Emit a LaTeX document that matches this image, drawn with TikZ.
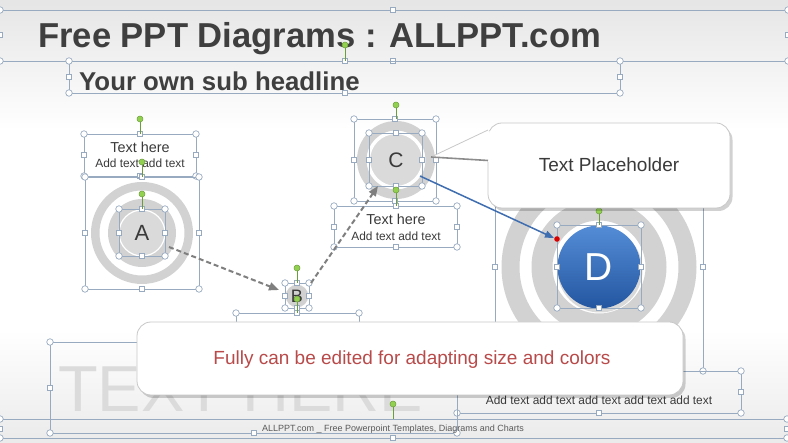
\documentclass[tikz,border=0pt]{standalone}
\usepackage{fontspec}
\setmainfont{Liberation Sans}
\usetikzlibrary{arrows.meta,calc}
\definecolor{selc}{HTML}{98AAC0}
\definecolor{ringc}{HTML}{D2D2D2}
\definecolor{discc}{HTML}{DADADA}
\definecolor{titlec}{HTML}{3F3F3F}
\definecolor{bodyc}{HTML}{3A3A3A}
\definecolor{greenh}{HTML}{92D050}
\definecolor{greenb}{HTML}{6B9E3A}
\definecolor{arrowg}{HTML}{7F7F7F}
\definecolor{blueln}{HTML}{3F6EB0}
\definecolor{redtx}{HTML}{B94A4A}
\definecolor{callb}{HTML}{C8C8C8}
\tikzset{
  sel/.style={draw=selc,line width=0.9pt},
  hc/.style={circle,draw=selc,fill=white,line width=0.7pt,inner sep=0pt,minimum size=6.5pt},
  hs/.style={rectangle,draw=selc,fill=white,line width=0.7pt,inner sep=0pt,minimum size=5pt},
  gh/.style={circle,draw=greenb,fill=greenh,line width=0.5pt,inner sep=0pt,minimum size=6pt},
  disc/.style={circle,fill=discc,draw=white,line width=1.2pt,inner sep=0pt,text=bodyc},
  dasharrow/.style={draw=arrowg,line width=2pt,dash pattern=on 5pt off 3pt,-{Triangle[length=10pt,width=8pt]}},
  bluearrow/.style={draw=blueln,line width=1.5pt,-{Triangle[length=9pt,width=7pt]}},
  callout/.style={rectangle,rounded corners=14pt,fill=white,draw=callb,line width=0.8pt,inner sep=0pt},
  calloutshadow/.style={rectangle,rounded corners=14pt,fill=black,opacity=0.18,inner sep=0pt},
  lbl/.style={inner sep=0pt,anchor=base,text=bodyc}
}
\newcommand\mkselbox[4]{%
  \draw[sel] (#1,#2) rectangle (#3,#4);
  \node[hc] at (#1,#2) {}; \node[hc] at (#3,#2) {};
  \node[hc] at (#1,#4) {}; \node[hc] at (#3,#4) {};
  \node[hs] at ($(#1,#2)!0.5!(#3,#2)$) {};
  \node[hs] at ($(#1,#4)!0.5!(#3,#4)$) {};
  \node[hs] at ($(#1,#2)!0.5!(#1,#4)$) {};
  \node[hs] at ($(#3,#2)!0.5!(#3,#4)$) {};
}
\newcommand\mkrot[3]{%
  \draw[draw=greenb,line width=0.6pt] (#1,#2) -- (#1,#3);
  \node[gh] at (#1,#3) {};
}
\begin{document}
\begin{tikzpicture}[x=1pt,y=-1pt]
\useasboundingbox (0,0) rectangle (788,443);
% background
\shade[top color=black!10,bottom color=white] (0,0) rectangle (788,130);
\fill[white] (0,130) rectangle (788,330);
\shade[top color=white,bottom color=black!8] (0,330) rectangle (788,443);

% watermark
\node[lbl,anchor=base west,text=black!14] (wm) at (58,412) {\fontsize{65}{70}\selectfont TEXT HERE};

% title & subtitle
\node[lbl,anchor=base west,text=titlec] (title) at (38,48) {\fontsize{34.6}{40}\selectfont\bfseries Free PPT Diagrams : ALLPPT.com};
\node[lbl,anchor=base west,text=titlec] (sub) at (79,90.5) {\fontsize{25.8}{30}\selectfont\bfseries Your own sub headline};

% title / subtitle selection frames
\draw[sel] (0,10) -- (788,10);
\draw[sel] (0,61) -- (788,61);
\node[hc] at (0,10) {}; \node[hc] at (0,61) {}; \node[hs] at (0,35) {};
\node[hc] at (788,10) {}; \node[hc] at (788,61) {}; \node[hs] at (788,35) {};
\node[hs] at (393,10) {}; \node[hs] at (393,61) {};
\mkselbox{69}{61}{620}{93}
\mkrot{345}{61}{45}

% ---------- group A ----------
\fill[ringc,even odd rule] (142,233) circle (51) (142,233) circle (42.5);
\fill[ringc,even odd rule] (142,233) circle (34) (142,233) circle (23);
\node[disc,minimum size=46pt] (A) at (142,233) {\fontsize{22}{24}\selectfont A};
\node[lbl] (tA) at (140,153) {\fontsize{14.4}{16}\selectfont Text here};
\node[lbl] (sA) at (140,168) {\fontsize{11.9}{14}\selectfont Add text add text};
\mkselbox{84}{134}{196}{176}
\mkrot{140}{134}{119}
\mkselbox{85}{177}{199}{289}
\mkselbox{119}{209}{165}{256}
\mkrot{142}{209}{194}
\mkrot{142}{177}{162}

% ---------- group B ----------
\node[disc,minimum size=24pt,fill=black!18] (B) at (297,296) {\fontsize{18}{20}\selectfont B};
\mkselbox{285}{283}{309}{308}
\mkrot{297}{283}{268}
\draw[sel] (236,313) rectangle (359,345);
\node[hc] at (236,313) {}; \node[hc] at (359,313) {}; \node[hs] at (297,313) {};
\mkrot{297}{313}{299}

% ---------- group C ----------
\fill[ringc,even odd rule] (396,160) circle (39) (396,160) circle (29.5);
\node[disc,minimum size=53pt] (C) at (396,160) {\fontsize{21}{24}\selectfont C};
\node[lbl] (tC) at (396,225) {\fontsize{14.4}{16}\selectfont Text here};
\node[lbl] (sC) at (396,241) {\fontsize{11.9}{14}\selectfont Add text add text};
\mkselbox{354}{119}{436}{201}
\mkrot{396}{119}{105}
\mkselbox{369}{133}{422}{186}
\mkselbox{334}{206}{457}{247}
\mkrot{396}{206}{190}

% ---------- group D ----------
\fill[ringc,even odd rule] (599,267) circle (97.5) (599,267) circle (79.5);
\fill[ringc,even odd rule] (599,267) circle (67.5) (599,267) circle (46.5);
\fill[black,opacity=0.15] (600,270) circle (42.5);
\shade[top color={rgb,255:red,84;green,141;blue,214},bottom color={rgb,255:red,36;green,86;blue,160}] (599,267) circle (41.5);
\node[circle,minimum size=83pt,inner sep=0pt,text=white] (D) at (599,267) {\fontsize{39}{42}\selectfont D};
\draw[sel] (495,165) -- (495,371) -- (703,371) -- (703,165);
\node[hs] at (495,267) {}; \node[hs] at (703,267) {}; \node[hc] at (703,371) {};
\mkselbox{557}{225}{641}{308}
\mkrot{599}{225}{211}

% add text box (bottom right)
\mkselbox{457}{371}{741}{413}
\node[lbl] (sD) at (599,405) {\fontsize{11.9}{14}\selectfont Add text add text add text add text add text};

% TEXT HERE box
\mkselbox{50}{342}{457}{433}

% footer
\draw[sel] (0,419) -- (788,419);
\draw[sel] (0,438) -- (788,438);
\node[hc] at (0,419) {}; \node[hc] at (0,438) {}; \node[hs] at (0,429) {};
\node[hc] at (787,419) {}; \node[hc] at (787,438) {}; \node[hs] at (787,429) {};
\node[hs] at (393,438) {};
\mkrot{393}{419}{404}
\node[lbl,text=black!65] (foot) at (393,432) {\fontsize{9}{10}\selectfont ALLPPT.com \_ Free Powerpoint Templates, Diagrams and Charts};

% ---------- connectors ----------
\coordinate (Aout) at (169,247);
\coordinate (Bin) at (279,290);
\coordinate (Bout) at (311,283);
\coordinate (Cin) at (378,186);
\coordinate (Cout) at (420,176);
\coordinate (Din) at (554,238);
\draw[dasharrow] (Aout) -- (Bin);
\draw[dasharrow] (Bout) -- (Cin);
\draw[bluearrow] (Cout) -- (Din);
\fill[red!85!black] (Din) ++(3,1) circle (2.8);

% ---------- callouts ----------
\node[calloutshadow,minimum width=242pt,minimum height=85pt] at (611.5,168.5) {};
\node[callout,minimum width=242pt,minimum height=85pt] (tp) at (609,165.5) {};
\coordinate (tail) at (431,157);
\fill[white] (489.5,131) -- (tail) -- (489.5,162) -- cycle;
\draw[callb,line width=0.8pt] (488,130) -- (tail);
\draw[black!45,line width=1.6pt] (tail) -- (488,160.5);
\node[lbl] (tptext) at (tp.center) [yshift=-6.5pt] {\fontsize{19}{22}\selectfont Text Placeholder};

\node[calloutshadow,minimum width=546pt,minimum height=73pt] at (412.5,361.5) {};
\node[callout,minimum width=546pt,minimum height=73pt] (fc) at (410,358.5) {};
\node[lbl,text=redtx] (fctext) at (412,365) {\fontsize{19}{22}\selectfont Fully can be edited for adapting size and colors};
\end{tikzpicture}
\end{document}
